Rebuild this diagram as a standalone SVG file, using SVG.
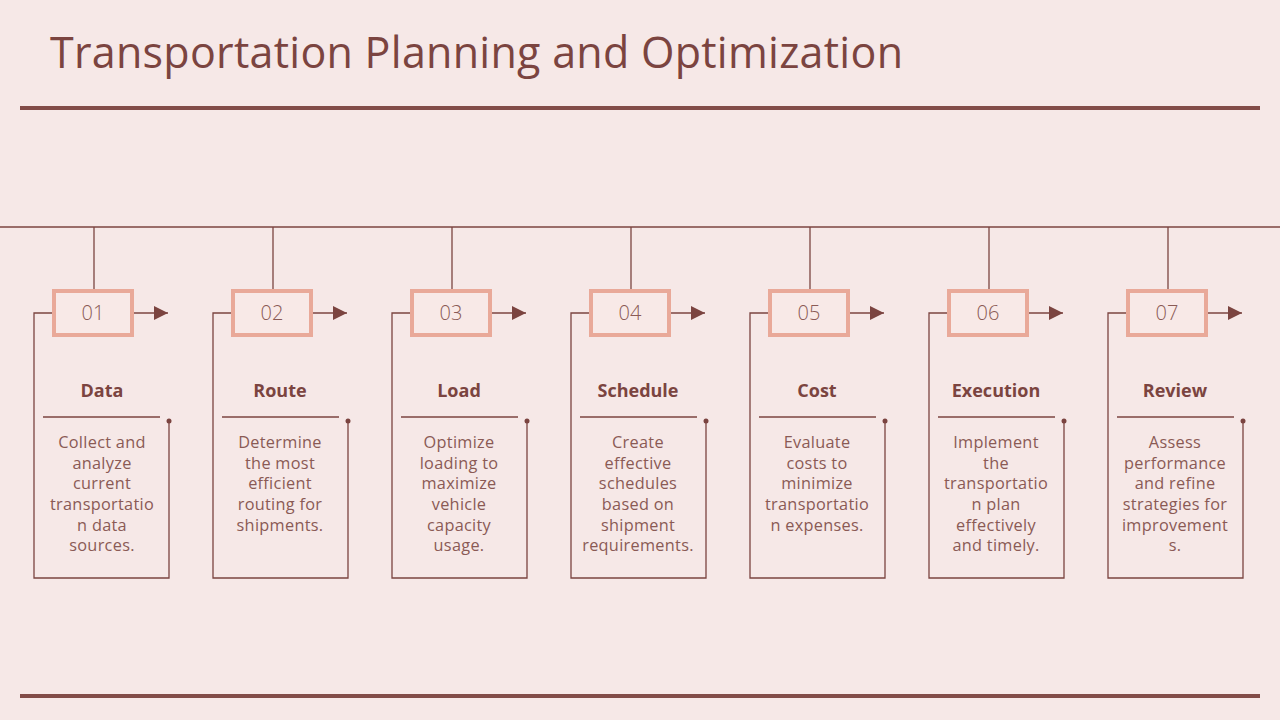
<svg xmlns="http://www.w3.org/2000/svg" width="1280" height="720" viewBox="0 0 1280 720">
<defs>
<marker id="ah" viewBox="0 0 10 10" refX="10" refY="5" markerWidth="14" markerHeight="14" markerUnits="userSpaceOnUse" orient="auto">
<path d="M0,0 L10,5 L0,10 z" fill="#7b4440"/>
</marker>
<style>
.ln{stroke:#7b4440;stroke-width:1.3;fill:none}
.thick{stroke:#824c48;stroke-width:4}
.box{fill:#f8e9e7;stroke:#e9a999;stroke-width:4}
.num{font-family:"Open Sans","Liberation Sans",sans-serif;font-size:20px;fill:#8a5a55;text-anchor:middle;font-weight:300}
.hd{font-family:"Open Sans","Liberation Sans",sans-serif;font-size:18px;font-weight:700;fill:#7b4440;text-anchor:middle}
.bd{font-family:"Open Sans","Liberation Sans",sans-serif;font-size:16.3px;letter-spacing:0.3px;fill:#8a5a55;text-anchor:middle}
.title{font-family:"Open Sans","Liberation Sans",sans-serif;font-size:43px;fill:#7b4440}
.dot{fill:#7b4440}
</style>
</defs>
<rect width="1280" height="720" fill="#f6e8e7"/>
<text class="title" x="50" y="68" textLength="853" lengthAdjust="spacing">Transportation Planning and Optimization</text>
<line class="thick" x1="20" y1="108" x2="1260" y2="108"/>
<line class="thick" x1="20" y1="696" x2="1260" y2="696"/>
<g id="connectors">
<line class="ln" x1="0" y1="227" x2="1280" y2="227"/>
</g>
<g id="step1" transform="translate(0,0)">
<line class="ln" x1="94" y1="227" x2="94" y2="290"/>
<polyline class="ln" points="54,313 34,313 34,578 169,578 169,421"/>
<line class="ln" x1="43" y1="417" x2="160" y2="417"/>
<circle class="dot" cx="169" cy="421" r="2.5"/>
<line class="ln" x1="133" y1="313" x2="168" y2="313" marker-end="url(#ah)"/>
<rect class="box" x="54" y="291" width="78" height="44"/>
<text class="num" x="93" y="320">01</text>
<text class="hd" x="102" y="397">Data</text>
<text class="bd"><tspan x="102" y="448">Collect and</tspan><tspan x="102" y="469">analyze</tspan><tspan x="102" y="489">current</tspan><tspan x="102" y="510">transportatio</tspan><tspan x="102" y="531">n data</tspan><tspan x="102" y="551">sources.</tspan></text>
</g>
<g id="step2" transform="translate(179,0)">
<line class="ln" x1="94" y1="227" x2="94" y2="290"/>
<polyline class="ln" points="54,313 34,313 34,578 169,578 169,421"/>
<line class="ln" x1="43" y1="417" x2="160" y2="417"/>
<circle class="dot" cx="169" cy="421" r="2.5"/>
<line class="ln" x1="133" y1="313" x2="168" y2="313" marker-end="url(#ah)"/>
<rect class="box" x="54" y="291" width="78" height="44"/>
<text class="num" x="93" y="320">02</text>
<text class="hd" x="101" y="397">Route</text>
<text class="bd"><tspan x="101" y="448">Determine</tspan><tspan x="101" y="469">the most</tspan><tspan x="101" y="489">efficient</tspan><tspan x="101" y="510">routing for</tspan><tspan x="101" y="531">shipments.</tspan></text>
</g>
<g id="step3" transform="translate(358,0)">
<line class="ln" x1="94" y1="227" x2="94" y2="290"/>
<polyline class="ln" points="54,313 34,313 34,578 169,578 169,421"/>
<line class="ln" x1="43" y1="417" x2="160" y2="417"/>
<circle class="dot" cx="169" cy="421" r="2.5"/>
<line class="ln" x1="133" y1="313" x2="168" y2="313" marker-end="url(#ah)"/>
<rect class="box" x="54" y="291" width="78" height="44"/>
<text class="num" x="93" y="320">03</text>
<text class="hd" x="101" y="397">Load</text>
<text class="bd"><tspan x="101" y="448">Optimize</tspan><tspan x="101" y="469">loading to</tspan><tspan x="101" y="489">maximize</tspan><tspan x="101" y="510">vehicle</tspan><tspan x="101" y="531">capacity</tspan><tspan x="101" y="551">usage.</tspan></text>
</g>
<g id="step4" transform="translate(537,0)">
<line class="ln" x1="94" y1="227" x2="94" y2="290"/>
<polyline class="ln" points="54,313 34,313 34,578 169,578 169,421"/>
<line class="ln" x1="43" y1="417" x2="160" y2="417"/>
<circle class="dot" cx="169" cy="421" r="2.5"/>
<line class="ln" x1="133" y1="313" x2="168" y2="313" marker-end="url(#ah)"/>
<rect class="box" x="54" y="291" width="78" height="44"/>
<text class="num" x="93" y="320">04</text>
<text class="hd" x="101" y="397">Schedule</text>
<text class="bd"><tspan x="101" y="448">Create</tspan><tspan x="101" y="469">effective</tspan><tspan x="101" y="489">schedules</tspan><tspan x="101" y="510">based on</tspan><tspan x="101" y="531">shipment</tspan><tspan x="101" y="551">requirements.</tspan></text>
</g>
<g id="step5" transform="translate(716,0)">
<line class="ln" x1="94" y1="227" x2="94" y2="290"/>
<polyline class="ln" points="54,313 34,313 34,578 169,578 169,421"/>
<line class="ln" x1="43" y1="417" x2="160" y2="417"/>
<circle class="dot" cx="169" cy="421" r="2.5"/>
<line class="ln" x1="133" y1="313" x2="168" y2="313" marker-end="url(#ah)"/>
<rect class="box" x="54" y="291" width="78" height="44"/>
<text class="num" x="93" y="320">05</text>
<text class="hd" x="101" y="397">Cost</text>
<text class="bd"><tspan x="101" y="448">Evaluate</tspan><tspan x="101" y="469">costs to</tspan><tspan x="101" y="489">minimize</tspan><tspan x="101" y="510">transportatio</tspan><tspan x="101" y="531">n expenses.</tspan></text>
</g>
<g id="step6" transform="translate(895,0)">
<line class="ln" x1="94" y1="227" x2="94" y2="290"/>
<polyline class="ln" points="54,313 34,313 34,578 169,578 169,421"/>
<line class="ln" x1="43" y1="417" x2="160" y2="417"/>
<circle class="dot" cx="169" cy="421" r="2.5"/>
<line class="ln" x1="133" y1="313" x2="168" y2="313" marker-end="url(#ah)"/>
<rect class="box" x="54" y="291" width="78" height="44"/>
<text class="num" x="93" y="320">06</text>
<text class="hd" x="101" y="397">Execution</text>
<text class="bd"><tspan x="101" y="448">Implement</tspan><tspan x="101" y="469">the</tspan><tspan x="101" y="489">transportatio</tspan><tspan x="101" y="510">n plan</tspan><tspan x="101" y="531">effectively</tspan><tspan x="101" y="551">and timely.</tspan></text>
</g>
<g id="step7" transform="translate(1074,0)">
<line class="ln" x1="94" y1="227" x2="94" y2="290"/>
<polyline class="ln" points="54,313 34,313 34,578 169,578 169,421"/>
<line class="ln" x1="43" y1="417" x2="160" y2="417"/>
<circle class="dot" cx="169" cy="421" r="2.5"/>
<line class="ln" x1="133" y1="313" x2="168" y2="313" marker-end="url(#ah)"/>
<rect class="box" x="54" y="291" width="78" height="44"/>
<text class="num" x="93" y="320">07</text>
<text class="hd" x="101" y="397">Review</text>
<text class="bd"><tspan x="101" y="448">Assess</tspan><tspan x="101" y="469">performance</tspan><tspan x="101" y="489">and refine</tspan><tspan x="101" y="510">strategies for</tspan><tspan x="101" y="531">improvement</tspan><tspan x="101" y="551">s.</tspan></text>
</g>
</svg>
